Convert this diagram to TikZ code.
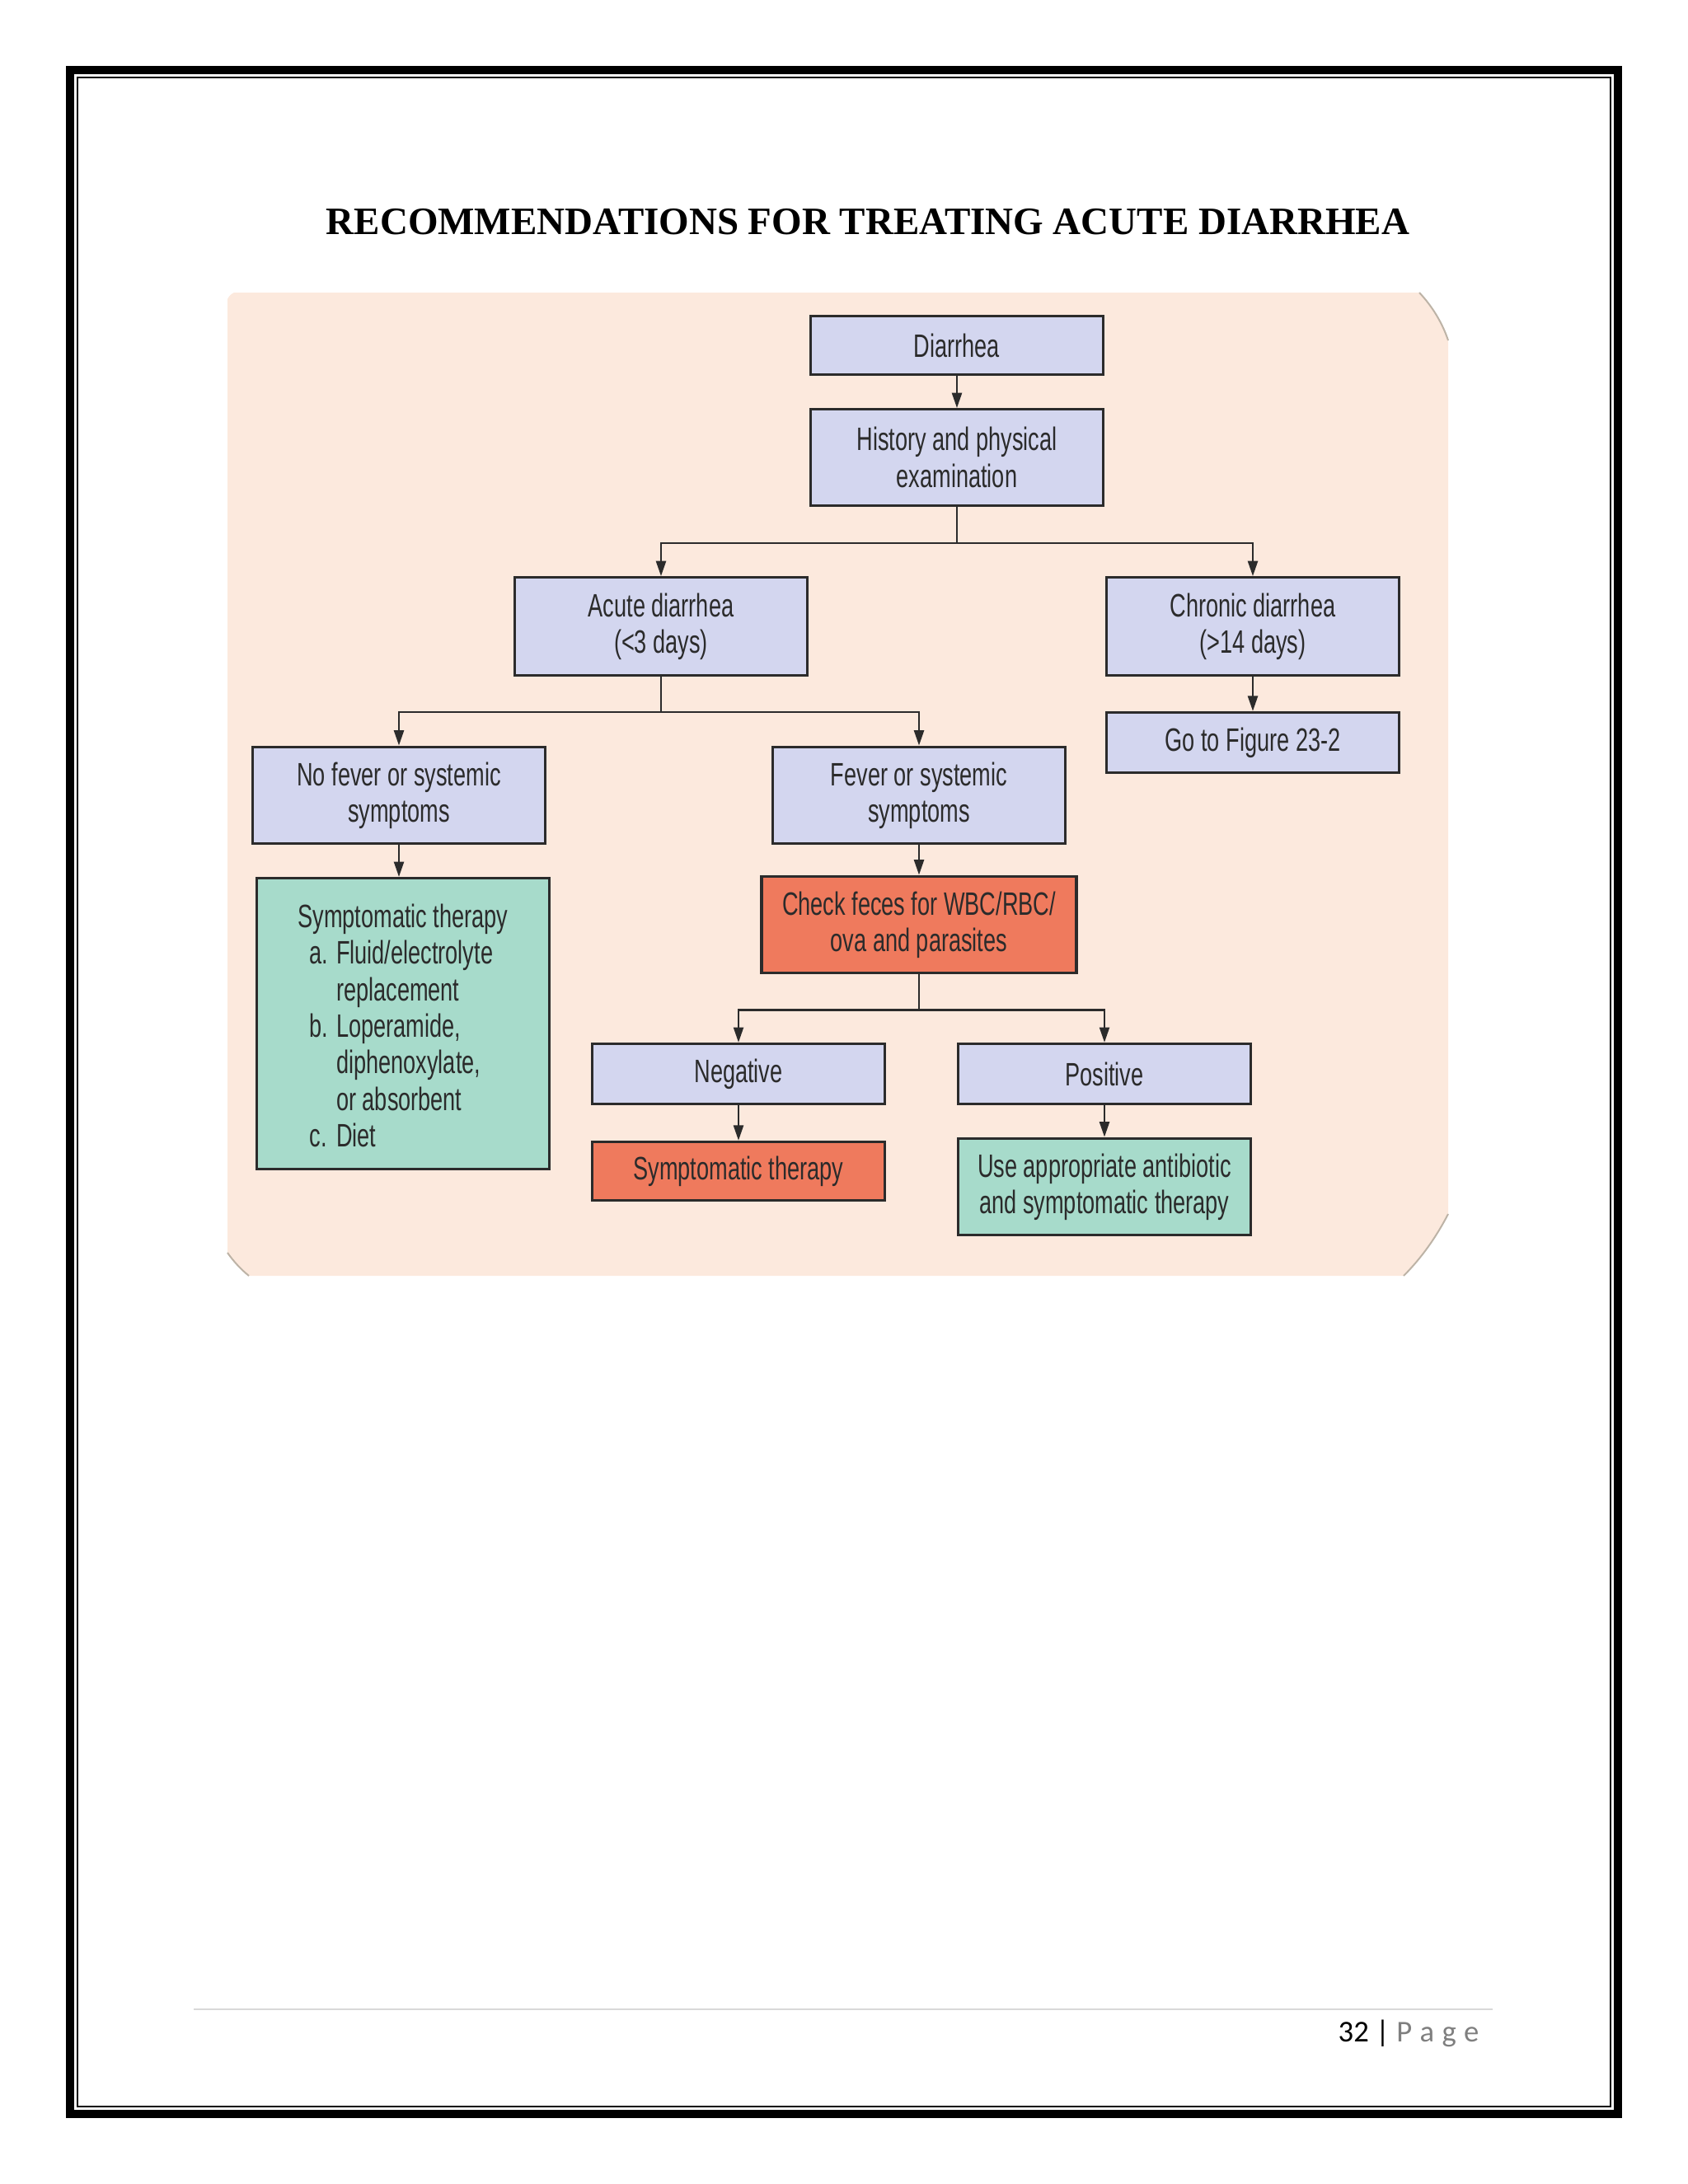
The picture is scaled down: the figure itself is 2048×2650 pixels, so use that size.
\documentclass[tikz,border=0pt]{standalone}
\usepackage{fontspec}
\setmainfont{Liberation Serif}
\newfontfamily\chartfont[FakeStretch=0.69]{Liberation Sans}
\newfontfamily\footfont{Carlito}
\usetikzlibrary{arrows.meta,calc}
\definecolor{DiarInk}{HTML}{2B2B2B}
\definecolor{DiarLav}{HTML}{D3D6EF}
\definecolor{DiarCoral}{HTML}{EF7A5D}
\definecolor{DiarMint}{HTML}{A7DBCB}
\definecolor{DiarPeach}{HTML}{FCE9DD}
\definecolor{DiarEdge}{HTML}{BDB3A6}
\definecolor{DiarRule}{HTML}{D9D9D9}
\definecolor{DiarGray}{HTML}{7F7F7F}

\begin{document}
\begin{tikzpicture}[
      x=0.010542cm,y=-0.010542cm,
      flowbox/.style={draw=DiarInk,line width=1pt,minimum width=3.74cm,inner sep=0pt,align=center,
        text=DiarInk,font=\chartfont\fontsize{11.8}{13.3}\selectfont},
      lav/.style={flowbox,fill=DiarLav},
      coral/.style={flowbox,fill=DiarCoral},
      mint/.style={flowbox,fill=DiarMint},
      arr/.style={draw=DiarInk,line width=0.7pt,-{Triangle[length=5.5pt,width=3.6pt]}}
    ]
      \useasboundingbox (0,0) rectangle (2048,2650);
      % page frame
      \draw[line width=3pt] (85,85) rectangle (1963,2565);
      \draw[line width=0.5pt] (94,94) rectangle (1954,2556);

      \node[anchor=base,font=\bfseries\fontsize{14.1}{17}\selectfont] (title) at (1053,284)
        {RECOMMENDATIONS FOR TREATING ACUTE DIARRHEA};

      % picture background
      \fill[DiarPeach] (284,355) -- (1722,355) .. controls (1738,372) and (1750,392) .. (1757,413)
        -- (1757,1473) .. controls (1742,1502) and (1724,1527) .. (1703,1548)
        -- (302,1548) .. controls (292,1540) and (283,1530) .. (276,1520)
        -- (276,363) .. controls (278,359) and (280,357) .. (284,355) -- cycle;
      \draw[DiarEdge,line width=0.6pt] (1722,355) .. controls (1738,372) and (1750,392) .. (1757,413);
      \draw[DiarEdge,line width=0.6pt] (1757,1473) .. controls (1742,1502) and (1724,1527) .. (1703,1548);
      \draw[DiarEdge,line width=0.6pt] (302,1548) .. controls (292,1540) and (283,1530) .. (276,1520);

      \node[lav,minimum height=0.75cm] (diarrhea) at (1161,419) {Diarrhea};
      \node[lav,minimum height=1.23cm] (history) at (1161,555) {History and physical\\examination};
      \node[lav,minimum height=1.25cm] (acute) at (802,760) {Acute diarrhea\\(<3 days)};
      \node[lav,minimum height=1.25cm] (chronic) at (1520,760) {Chronic diarrhea\\(>14 days)};
      \node[lav,minimum height=0.77cm] (figref) at (1520,901) {Go to Figure 23-2};
      \node[lav,minimum height=1.24cm] (nofever) at (484,965) {No fever or systemic\\symptoms};
      \node[lav,minimum height=1.24cm] (fever) at (1115,965) {Fever or systemic\\symptoms};
      \node[mint,minimum height=3.72cm] (symptx) at (489,1242)
        {\raisebox{-2.3pt}[\height][\depth]{\begin{tabular}{@{}l@{\hspace{3pt}}l@{}}
          \multicolumn{2}{@{}l@{}}{Symptomatic therapy}\\
          \hspace*{4.2pt}a. & Fluid/electrolyte\\
                            & replacement\\
          \hspace*{4.2pt}b. & Loperamide,\\
                            & diphenoxylate,\\
                            & or absorbent\\
          \hspace*{4.2pt}c. & Diet
        \end{tabular}}};
      \node[coral,minimum width=4.03cm,minimum height=1.24cm] (feces) at (1115,1122) {Check feces for WBC/RBC/\\ova and parasites};
      \node[lav,minimum height=0.77cm] (negative) at (896,1303) {Negative};
      \node[lav,minimum height=0.77cm] (positive) at (1340,1303) {Positive};
      \node[coral,minimum height=0.75cm] (symred) at (896,1421) {Symptomatic therapy};
      \node[mint,minimum height=1.24cm] (antibiotic) at (1340,1440) {Use appropriate antibiotic\\and symptomatic therapy};

      % connectors
      \draw[arr] (diarrhea) -- (history);
      \draw[arr] (history.south) -- ++(0,44) -| (acute.north);
      \draw[arr] (history.south) -- ++(0,44) -| (chronic.north);
      \draw[arr] (chronic) -- (figref);
      \draw[arr] (acute.south) -- ++(0,43) -| (nofever.north);
      \draw[arr] (acute.south) -- ++(0,43) -| (fever.north);
      \draw[arr] (nofever.south) -- (nofever.south |- symptx.north);
      \draw[arr] (fever) -- (feces);
      \draw[arr] (feces.south) -- ++(0,43) -| (negative.north);
      \draw[arr] (feces.south) -- ++(0,43) -| (positive.north);
      \draw[arr] (negative) -- (symred);
      \draw[arr] (positive) -- (antibiotic);

      % footer
      \draw[DiarRule,line width=0.6pt] (235,2438) -- (1811,2438);
      \node[anchor=base east,inner sep=0pt,font=\footfont\fontsize{11}{13}\selectfont] (pageno) at (1795,2477)
        {32 | \textcolor{DiarGray}{P\hspace{2.8pt}a\hspace{2.8pt}g\hspace{2.8pt}e}};
    \end{tikzpicture}
\end{document}
